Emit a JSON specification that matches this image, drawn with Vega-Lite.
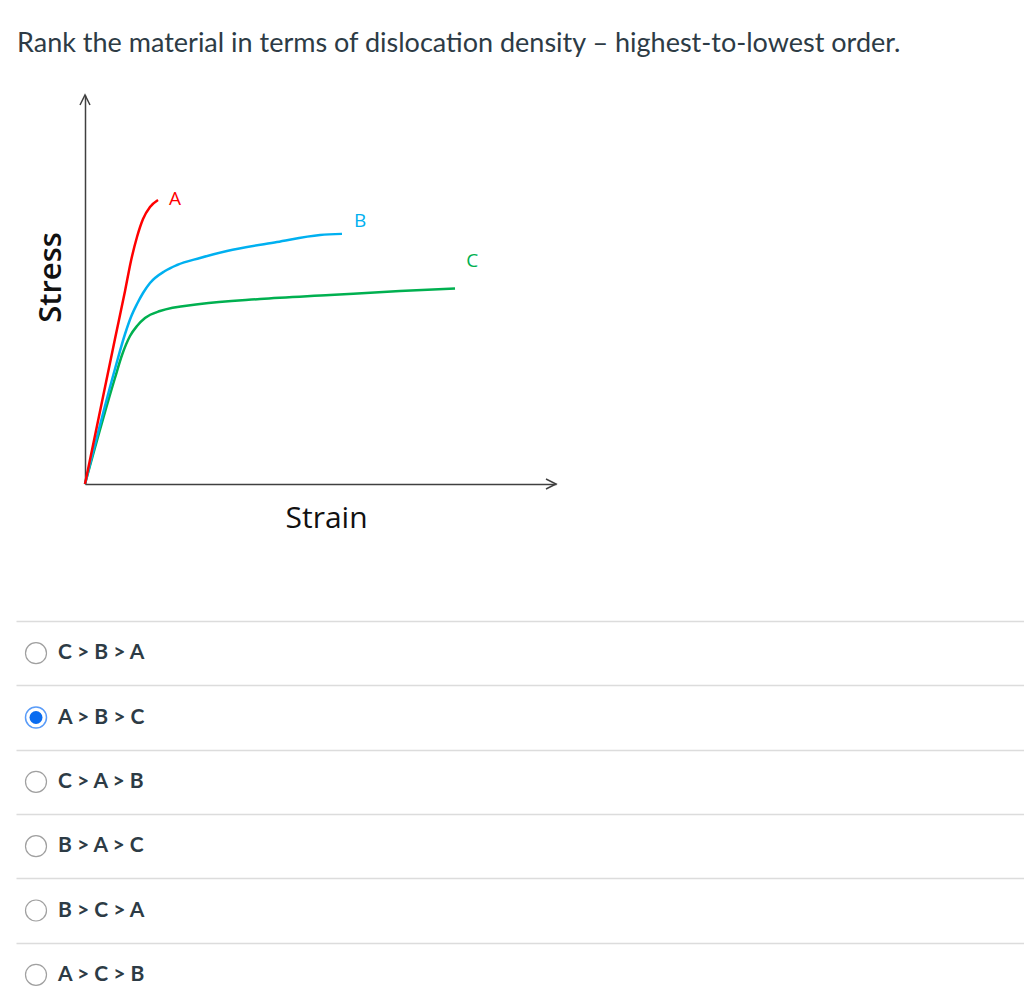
{
  "$schema": "https://vega.github.io/schema/vega-lite/v6.json",
  "background": "white",
  "padding": {"left": 16, "top": 30, "right": 0, "bottom": 0},
  "spacing": 88,
  "config": {"view": {"stroke": null}, "concat": {"spacing": 0}},
  "vconcat": [
    {
      "spacing": 0,
      "hconcat": [
        {
          "width": 0.01,
          "height": 0.01,
          "data": {"values": []},
          "mark": "point"
        },
        {
          "title": {
            "text": "Rank the material in terms of dislocation density – highest-to-lowest order.",
            "anchor": "start",
            "frame": "group",
            "dx": -68,
            "offset": 34,
            "font": "Lato",
            "fontSize": 27,
            "fontWeight": "normal",
            "color": "#2d3b45"
          },
          "width": 471,
          "height": 389,
          "layer": [
            {
              "data": {
                "values": [
                  {"material": "C", "strain": 0, "stress": 0},
                  {"material": "C", "strain": 3.18, "stress": 27.25},
                  {"material": "C", "strain": 3.93, "stress": 33.16},
                  {"material": "C", "strain": 4.78, "stress": 38.05},
                  {"material": "C", "strain": 5.52, "stress": 40.62},
                  {"material": "C", "strain": 6.37, "stress": 42.67},
                  {"material": "C", "strain": 7.96, "stress": 44.47},
                  {"material": "C", "strain": 12.21, "stress": 46.27},
                  {"material": "C", "strain": 18.58, "stress": 47.56},
                  {"material": "C", "strain": 26.01, "stress": 48.59},
                  {"material": "C", "strain": 33.44, "stress": 49.61},
                  {"material": "C", "strain": 39.28, "stress": 50.26},
                  {"material": "B", "strain": 0, "stress": 0},
                  {"material": "B", "strain": 3.18, "stress": 29.56},
                  {"material": "B", "strain": 4.25, "stress": 38.56},
                  {"material": "B", "strain": 4.88, "stress": 42.93},
                  {"material": "B", "strain": 5.52, "stress": 46.27},
                  {"material": "B", "strain": 6.16, "stress": 49.1},
                  {"material": "B", "strain": 6.9, "stress": 51.67},
                  {"material": "B", "strain": 8.49, "stress": 54.76},
                  {"material": "B", "strain": 9.77, "stress": 56.3},
                  {"material": "B", "strain": 12.21, "stress": 58.1},
                  {"material": "B", "strain": 15.07, "stress": 59.9},
                  {"material": "B", "strain": 20.38, "stress": 62.21},
                  {"material": "B", "strain": 24.95, "stress": 64.01},
                  {"material": "B", "strain": 27.28, "stress": 64.3},
                  {"material": "A", "strain": 0, "stress": 0},
                  {"material": "A", "strain": 3.18, "stress": 37.28},
                  {"material": "A", "strain": 4.25, "stress": 49.61},
                  {"material": "A", "strain": 4.88, "stress": 57.33},
                  {"material": "A", "strain": 5.52, "stress": 63.5},
                  {"material": "A", "strain": 6.16, "stress": 68.12},
                  {"material": "A", "strain": 6.9, "stress": 71.21},
                  {"material": "A", "strain": 7.75, "stress": 73.01}
                ]
              },
              "mark": {"type": "line", "strokeWidth": 2.5, "interpolate": "monotone"},
              "encoding": {
                "x": {
                  "field": "strain", "type": "quantitative",
                  "scale": {"domain": [0, 50], "nice": false},
                  "axis": {
                    "title": "Strain", "labels": false, "ticks": false, "grid": false,
                    "domainColor": "#404040", "domainWidth": 1.5,
                    "titleFont": "Open Sans", "titleFontSize": 30, "titleFontWeight": "normal",
                    "titleColor": "#111111", "titlePadding": 19, "titleX": 241
                  }
                },
                "y": {
                  "field": "stress", "type": "quantitative",
                  "scale": {"domain": [0, 100], "nice": false},
                  "axis": {
                    "title": "Stress", "labels": false, "ticks": false, "grid": false,
                    "domainColor": "#404040", "domainWidth": 1.5,
                    "titleFont": "Open Sans", "titleFontSize": 31, "titleFontWeight": 600,
                    "titleColor": "#111111", "titlePadding": 18, "titleY": 182
                  }
                },
                "color": {
                  "field": "material", "type": "nominal",
                  "scale": {"domain": ["A", "B", "C"], "range": ["#ff0000", "#00b0f0", "#00b050"]},
                  "legend": null
                }
              }
            },
            {
              "data": {
                "values": [
                  {"material": "A", "strain": 9.55, "stress": 73.3},
                  {"material": "B", "strain": 29.2, "stress": 67.6},
                  {"material": "C", "strain": 41.1, "stress": 57.3}
                ]
              },
              "mark": {"type": "text", "font": "Open Sans", "fontSize": 19, "baseline": "middle", "align": "center"},
              "encoding": {
                "x": {"field": "strain", "type": "quantitative"},
                "y": {"field": "stress", "type": "quantitative"},
                "text": {"field": "material"},
                "color": {"field": "material", "type": "nominal", "legend": null}
              }
            },
            {
              "data": {"values": [{"axis": "strain"}]},
              "mark": {"type": "point", "shape": "M-2,-1L0,0L-2,1", "size": 100, "filled": false, "stroke": "#404040", "strokeWidth": 1.5, "opacity": 1},
              "encoding": {"x": {"datum": 50, "type": "quantitative"}, "y": {"datum": 0, "type": "quantitative"}}
            },
            {
              "data": {"values": [{"axis": "stress"}]},
              "mark": {"type": "point", "shape": "M-1,2L0,0L1,2", "size": 100, "filled": false, "stroke": "#404040", "strokeWidth": 1.5, "opacity": 1},
              "encoding": {"x": {"datum": 0, "type": "quantitative"}, "y": {"datum": 100, "type": "quantitative"}}
            }
          ]
        }
      ]
    },
    {
      "width": 1008,
      "height": 386,
      "data": {
        "values": [
          {"option": "C > B > A", "selected": false},
          {"option": "A > B > C", "selected": true},
          {"option": "C > A > B", "selected": false},
          {"option": "B > A > C", "selected": false},
          {"option": "B > C > A", "selected": false},
          {"option": "A > C > B", "selected": false}
        ]
      },
      "encoding": {
        "y": {
          "field": "option", "type": "nominal", "sort": null,
          "scale": {
            "domain": ["C > B > A", "A > B > C", "C > A > B", "B > A > C", "B > C > A", "A > C > B"],
            "paddingInner": 0, "paddingOuter": 0
          },
          "axis": {
            "title": null, "labels": false, "ticks": false, "domain": false,
            "grid": true, "tickBand": "extent", "gridColor": "#dcdcdc", "gridWidth": 1.5
          }
        }
      },
      "layer": [
        {
          "transform": [{"filter": "!datum.selected"}],
          "mark": {"type": "point", "size": 441, "filled": false, "fill": "white", "stroke": "#a0a0a0", "strokeWidth": 1.2, "opacity": 1},
          "encoding": {"x": {"value": 20}}
        },
        {
          "transform": [{"filter": "datum.selected"}],
          "mark": {"type": "point", "size": 441, "filled": false, "fill": "white", "stroke": "#5a9cf8", "strokeWidth": 1.5, "opacity": 1},
          "encoding": {"x": {"value": 20}}
        },
        {
          "transform": [{"filter": "datum.selected"}],
          "mark": {"type": "point", "size": 169, "filled": true, "color": "#0a6cf0", "opacity": 1},
          "encoding": {"x": {"value": 20}}
        },
        {
          "mark": {"type": "text", "align": "left", "baseline": "middle", "font": "Lato", "fontSize": 21, "fontWeight": "bold", "color": "#2d3b45"},
          "encoding": {"x": {"value": 42}, "text": {"field": "option"}}
        }
      ]
    }
  ]
}
